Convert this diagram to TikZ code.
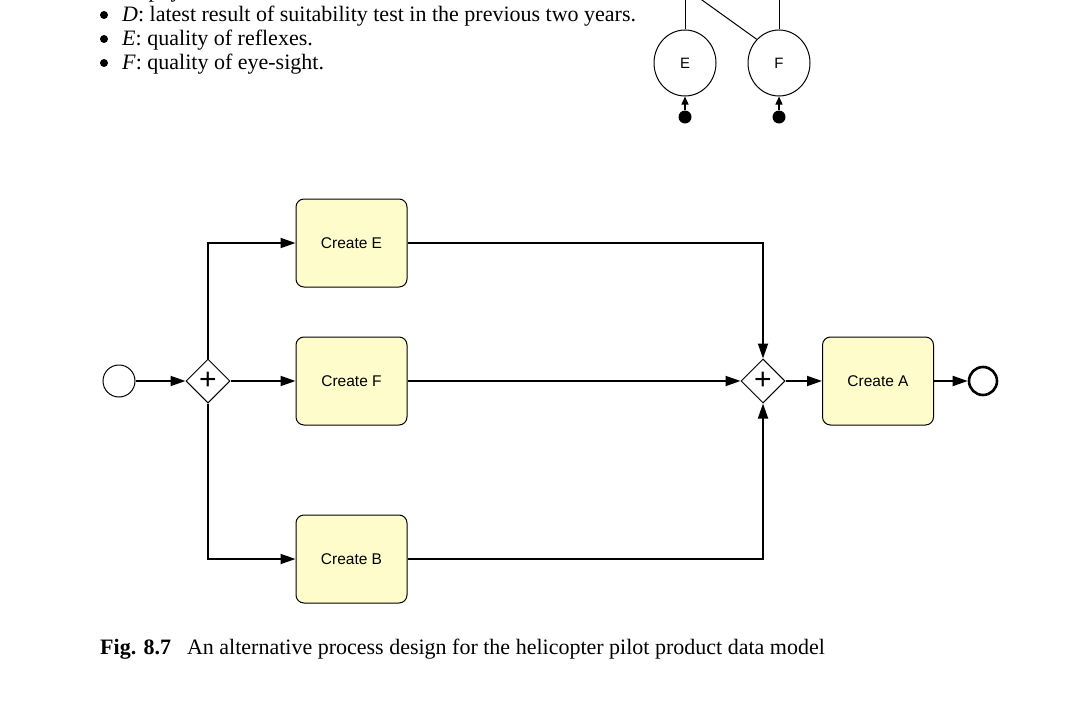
\documentclass[tikz,border=0pt]{standalone}
\usepackage{fontspec}
\setmainfont{Liberation Serif}
\newfontfamily\mysans{Liberation Sans}
\usetikzlibrary{arrows.meta,shapes.geometric}
\begin{document}
\begin{tikzpicture}[x=1pt,y=-1pt,
  task/.style={draw,line width=1pt,fill=yellow!20,rounded corners=8pt,minimum width=111pt,minimum height=88pt,font=\mysans\fontsize{15.5}{18}\selectfont},
  gw/.style={draw,line width=1pt,fill=white,diamond,minimum width=44pt,minimum height=44pt,inner sep=0pt,font=\mysans\fontsize{30}{30}\selectfont},
  flow/.style={line width=1.8pt,-{Triangle[length=15pt,width=10pt]}},
  pd/.style={draw,line width=1pt,ellipse,minimum width=62pt,minimum height=66pt,font=\mysans\fontsize{15}{17}\selectfont},
  btxt/.style={anchor=base west,inner sep=0pt,font=\fontsize{22}{26}\selectfont}]
\useasboundingbox (0,0) rectangle (1068,725);
\clip (0,0) rectangle (1068,725);
% bullets
\foreach \y/\t [count=\i] in {-2/{\textit{C}: physical fitness.},22/{\textit{D}: latest result of suitability test in the previous two years.},46/{\textit{E}: quality of reflexes.},70/{\textit{F}: quality of eye-sight.}}{
  \node[btxt] (b\i) at (122,\y) {\t};
  \fill (104,\y-7) circle (4pt);
}
% product data model fragment
\node[pd] (E) at (685,63) {E};
\node[pd] (F) at (779,63) {F};
\coordinate (Et) at (685,-5); \coordinate (Ft) at (779,-5); \coordinate (Dg) at (695,-5);
\draw[line width=1pt] (E.north) -- (Et);
\draw[line width=1pt] (F.north) -- (Ft);
\draw[line width=1pt] (F.north west) -- (Dg);
\node[circle,fill,inner sep=0pt,minimum size=13pt] (de) at (685,117) {};
\node[circle,fill,inner sep=0pt,minimum size=13pt] (df) at (779,117) {};
\draw[line width=1.2pt,-{Triangle[length=8pt,width=7pt]}] (de) -- (E.south);
\draw[line width=1.2pt,-{Triangle[length=8pt,width=7pt]}] (df) -- (F.south);
% process
\node[circle,draw,line width=1pt,minimum size=32pt,inner sep=0pt] (s) at (119,381) {};
\node[gw] (g1) at (208,381) {+};
\node[task] (te) at (351.5,243) {Create E};
\node[task] (tf) at (351.5,381) {Create F};
\node[task] (tb) at (351.5,559) {Create B};
\node[gw] (g2) at (763,381) {+};
\node[task] (ta) at (878,381) {Create A};
\node[circle,draw,line width=2.6pt,minimum size=28pt,inner sep=0pt] (en) at (983,381) {};
\draw[flow] (s) -- (g1);
\draw[flow] (g1) -- (tf);
\draw[flow] (g1.north) |- (te);
\draw[flow] (g1.south) |- (tb);
\draw[flow] (te) -| (g2.north);
\draw[flow] (tb) -| (g2.south);
\draw[flow] (tf) -- (g2);
\draw[flow] (g2) -- (ta);
\draw[flow] (ta) -- (en);
% caption
\node[btxt] (cap) at (100,654) {\textbf{Fig. 8.7}\hspace{16pt}An alternative process design for the helicopter pilot product data model};
\end{tikzpicture}
\end{document}
